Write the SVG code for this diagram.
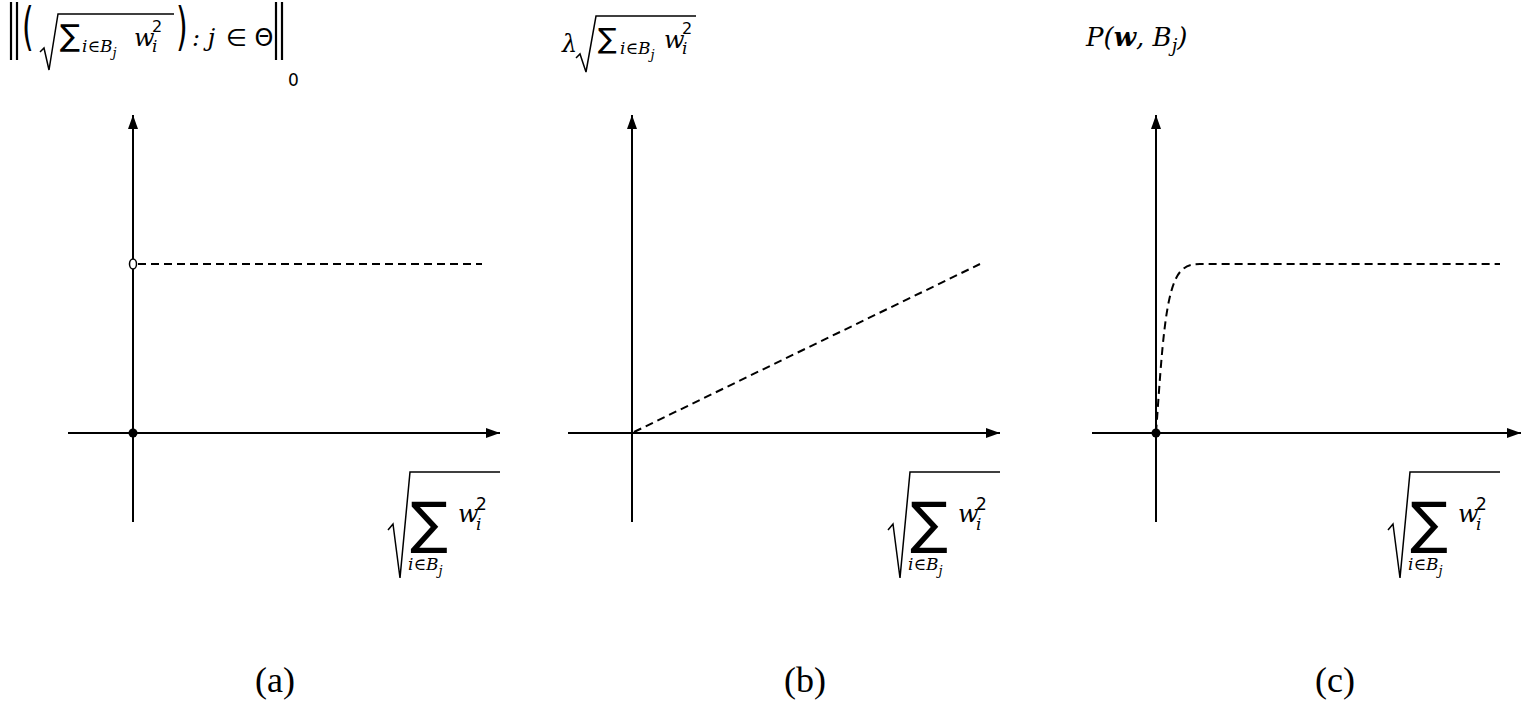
<svg xmlns="http://www.w3.org/2000/svg" width="1530" height="710" viewBox="0 0 1530 710">
<style>
.ax{stroke:#000;stroke-width:2;fill:none}
.ds{stroke:#000;stroke-width:2;fill:none;stroke-dasharray:8,5}
.m{font-family:"DejaVu Serif","Liberation Serif",serif;font-style:italic;font-size:24px}
.n{font-family:"DejaVu Sans","Liberation Sans",sans-serif;font-size:24px}
.s{font-family:"DejaVu Serif","Liberation Serif",serif;font-style:italic;font-size:17px}
.cap{font-family:"Liberation Serif",serif;font-size:36px}
.rad{stroke:#000;stroke-width:1.5;fill:none}
.bar{stroke:#000;stroke-width:2.2}
</style>
<defs>
<marker id="ar" markerWidth="14" markerHeight="10" refX="14" refY="5" orient="auto" markerUnits="userSpaceOnUse"><path d="M0,0 L14,5 L0,10 Z"/></marker>
<g id="xl">
<polyline class="rad" points="0,530 5,524 12,578 22,472 112,472"/>
<text x="22" y="542" class="n" style="font-size:56px">∑</text>
<text x="20" y="570" class="s">i∈B<tspan dy="5" font-size="13">j</tspan></text>
<text x="70" y="522" class="m">w</text>
<text x="88" y="530" class="s">i</text>
<text x="88" y="510" class="n" style="font-size:17px">2</text>
</g>
</defs>
<g id="connectors">
<line class="ax" x1="133" y1="522" x2="133" y2="115" marker-end="url(#ar)"/>
<line class="ax" x1="68" y1="433" x2="500" y2="433" marker-end="url(#ar)"/>
<line class="ax" x1="632" y1="522" x2="632" y2="115" marker-end="url(#ar)"/>
<line class="ax" x1="568" y1="433" x2="1000" y2="433" marker-end="url(#ar)"/>
<line class="ax" x1="1156" y1="522" x2="1156" y2="115" marker-end="url(#ar)"/>
<line class="ax" x1="1092" y1="433" x2="1521" y2="433" marker-end="url(#ar)"/>
</g>
<g id="panel-a">
<circle cx="133" cy="433" r="4.5"/>
<ellipse cx="133" cy="264" rx="3.5" ry="5" fill="#fff" stroke="#000" stroke-width="1.5"/>
<line class="ds" x1="138" y1="264" x2="482" y2="264"/>
<use href="#xl" x="388" y="0"/>
<line class="bar" x1="11" y1="2" x2="11" y2="60"/>
<line class="bar" x1="17" y1="2" x2="17" y2="60"/>
<text x="22" y="26" class="n" style="font-size:30px" transform="scale(1,1.7)">(</text>
<polyline class="rad" points="40,52 44,48 49,70 58,14 174,14"/>
<text x="60" y="46" class="n" style="font-size:30px">∑</text>
<text x="82" y="52" class="s">i∈B<tspan dy="5" font-size="13">j</tspan></text>
<text x="134" y="46" class="m">w</text>
<text x="152" y="52" class="s">i</text>
<text x="152" y="32" class="n" style="font-size:16px">2</text>
<text x="176" y="26" class="n" style="font-size:30px" transform="scale(1,1.7)">)</text>
<text x="192" y="46" class="m">: j</text>
<text x="226" y="46" class="n">∈ Θ</text>
<line class="bar" x1="276" y1="2" x2="276" y2="60"/>
<line class="bar" x1="282" y1="2" x2="282" y2="60"/>
<text x="288" y="86" class="n" style="font-size:17px">0</text>
</g>
<g id="panel-b">
<line class="ds" x1="634" y1="432" x2="980" y2="264"/>
<use href="#xl" x="888" y="0"/>
<text x="562" y="52" class="m">λ</text>
<polyline class="rad" points="576,58 580,54 586,72 596,16 696,16"/>
<text x="598" y="48" class="n" style="font-size:28px">∑</text>
<text x="620" y="54" class="s">i∈B<tspan dy="5" font-size="13">j</tspan></text>
<text x="664" y="48" class="m">w</text>
<text x="682" y="54" class="s">i</text>
<text x="682" y="34" class="n" style="font-size:16px">2</text>
</g>
<g id="panel-c">
<circle cx="1156" cy="433" r="4.5"/>
<path class="ds" d="M1156,433 C1162,350 1165,290 1180,272 C1186,265 1192,264 1200,264 L1500,264"/>
<use href="#xl" x="1388" y="0"/>
<text x="1086" y="46" class="m" style="font-size:26px">P(<tspan font-weight="bold">w</tspan>, B<tspan dy="6" font-size="18">j</tspan><tspan dy="-6">)</tspan></text>
</g>
<g id="captions">
<text x="275" y="692" class="cap" text-anchor="middle">(a)</text>
<text x="805" y="692" class="cap" text-anchor="middle">(b)</text>
<text x="1335" y="692" class="cap" text-anchor="middle">(c)</text>
</g>
</svg>
